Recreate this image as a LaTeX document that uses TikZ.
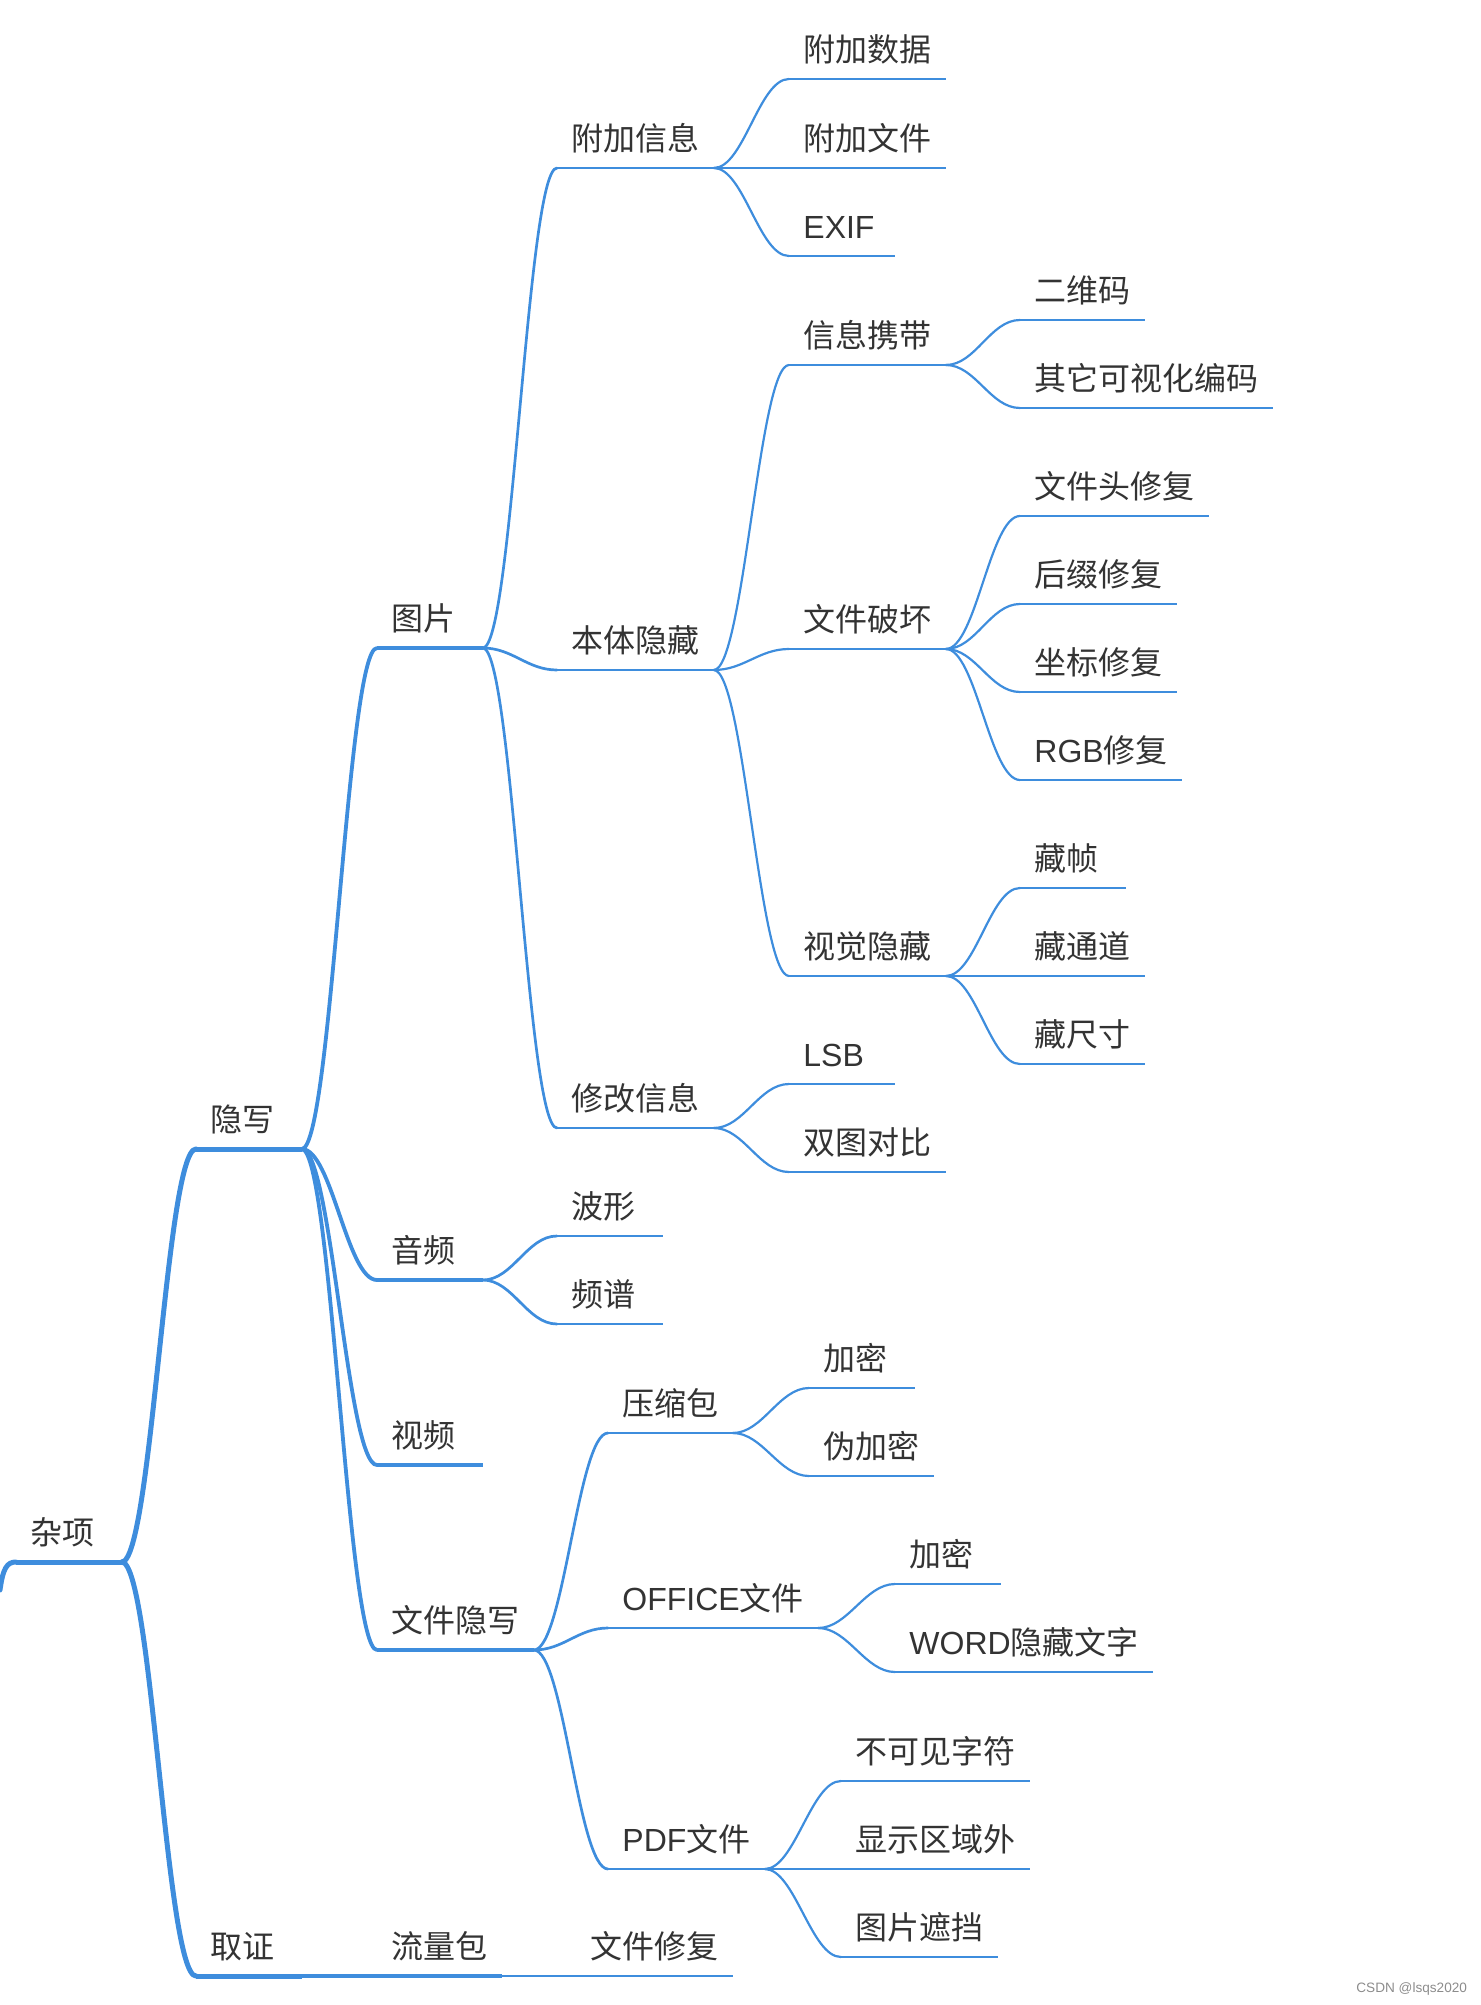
\documentclass[tikz,border=0pt]{standalone}
\usepackage{fontspec}
\setmainfont{Liberation Sans}
\newfontfamily\cjk{Noto Sans CJK SC}
\newfontfamily\lfont{Liberation Sans}
\definecolor{mapblue}{RGB}{62,141,221}
\definecolor{mapgray}{RGB}{51,51,51}
\definecolor{wmgray}{RGB}{140,140,140}
\tikzset{
  topic/.style={anchor=south west, inner xsep=7pt, inner ysep=0pt, text depth=8.7pt,
    text=mapgray, font={\cjk\fontsize{16pt}{19pt}\selectfont}},
  shorttopic/.style={topic, text width=38.5pt, align=left},
  branch/.style={draw=mapblue, line cap=round,
    to path={.. controls ([xshift=15pt]\tikztostart) and ([xshift=-15pt]\tikztotarget) .. (\tikztotarget)}},
  lvA/.style={line width=2.5pt},
  lvB/.style={line width=1.9pt},
  lvC/.style={line width=1.35pt},
  lvD/.style={line width=1.1pt},
}
\begin{document}
\begin{tikzpicture}[x=0.5pt, y=-0.5pt]
\useasboundingbox (0,0) rectangle (1480,2005);

% root and first level
\node[shorttopic] (root) at (16,1562) {杂项};
\node[shorttopic] (yx) at (196,1149) {隐写};
\node[shorttopic] (qz) at (196,1976) {取证};

% second level
\node[shorttopic] (tp) at (377,648) {图片};
\node[shorttopic] (yp) at (377,1280) {音频};
\node[shorttopic] (sp) at (377,1465) {视频};
\node[topic] (wjyx) at (377,1650) {文件隐写};
\node[topic] (llb) at (377,1976) {流量包};

% third level
\node[topic] (fjxx) at (557,168) {附加信息};
\node[topic] (btyc) at (557,670) {本体隐藏};
\node[topic] (xgxx) at (557,1128) {修改信息};
\node[shorttopic] (bx) at (557,1236) {波形};
\node[shorttopic] (pp) at (557,1324) {频谱};
\node[topic] (ysb) at (608,1433) {压缩包};
\node[topic] (office) at (608,1628) {{\lfont OFFICE}文件};
\node[topic] (pdf) at (608,1869) {{\lfont PDF}文件};
\node[topic] (wjxf) at (576,1976) {文件修复};

% fourth level
\node[topic] (fjsj) at (789,79) {附加数据};
\node[topic] (fjwj) at (789,168) {附加文件};
\node[shorttopic] (exif) at (789,256) {{\lfont EXIF}};
\node[topic] (xxxd) at (789,365) {信息携带};
\node[topic] (wjph) at (789,649) {文件破坏};
\node[topic] (sjyc) at (789,976) {视觉隐藏};
\node[shorttopic] (lsb) at (789,1084) {{\lfont LSB}};
\node[topic] (stdb) at (789,1172) {双图对比};
\node[shorttopic] (ysjm) at (809,1388) {加密};
\node[topic] (wjm) at (809,1476) {伪加密};
\node[shorttopic] (ofjm) at (895,1584) {加密};
\node[topic] (word) at (895,1672) {{\lfont WORD}隐藏文字};
\node[topic] (bkj) at (841,1781) {不可见字符};
\node[topic] (xsqy) at (841,1869) {显示区域外};
\node[topic] (tpzd) at (841,1957) {图片遮挡};

% fifth level
\node[topic] (ewm) at (1020,320) {二维码};
\node[topic] (qt) at (1020,408) {其它可视化编码};
\node[topic] (wjt) at (1020,516) {文件头修复};
\node[topic] (hz) at (1020,604) {后缀修复};
\node[topic] (zb) at (1020,692) {坐标修复};
\node[topic] (rgb) at (1020,780) {{\lfont RGB}修复};
\node[shorttopic] (cz) at (1020,888) {藏帧};
\node[topic] (ctd) at (1020,976) {藏通道};
\node[topic] (ccc) at (1020,1064) {藏尺寸};

% underlines
\foreach \n in {root,yx,qz}
  \draw[mapblue,lvA] (\n.south west) -- (\n.south east);
\foreach \n in {tp,yp,sp,wjyx,llb}
  \draw[mapblue,lvB] (\n.south west) -- (\n.south east);
\foreach \n in {fjxx,btyc,xgxx,bx,pp,ysb,office,pdf,wjxf}
  \draw[mapblue,lvC] (\n.south west) -- (\n.south east);
\foreach \n in {fjsj,fjwj,exif,xxxd,wjph,sjyc,lsb,stdb,ysjm,wjm,ofjm,word,bkj,xsqy,tpzd,
    ewm,qt,wjt,hz,zb,rgb,cz,ctd,ccc}
  \draw[mapblue,lvD] (\n.south west) -- (\n.south east);

% branches
\coordinate (rootin) at (0,1590);
\draw[mapblue,lvA,line cap=round] (rootin) .. controls (3,1568) and (7,1562) .. (root.south west);
\foreach \p/\c in {root/yx,root/qz}
  \draw[branch,lvA] (\p.south east) to (\c.south west);
\foreach \p/\c in {yx/tp,yx/yp,yx/sp,yx/wjyx,qz/llb}
  \draw[branch,lvB] (\p.south east) to (\c.south west);
\foreach \p/\c in {tp/fjxx,tp/btyc,tp/xgxx,yp/bx,yp/pp,wjyx/ysb,wjyx/office,wjyx/pdf,llb/wjxf}
  \draw[branch,lvC] (\p.south east) to (\c.south west);
\foreach \p/\c in {fjxx/fjsj,fjxx/fjwj,fjxx/exif,btyc/xxxd,btyc/wjph,btyc/sjyc,xgxx/lsb,xgxx/stdb,
    ysb/ysjm,ysb/wjm,office/ofjm,office/word,pdf/bkj,pdf/xsqy,pdf/tpzd,
    xxxd/ewm,xxxd/qt,wjph/wjt,wjph/hz,wjph/zb,wjph/rgb,sjyc/cz,sjyc/ctd,sjyc/ccc}
  \draw[branch,lvD] (\p.south east) to (\c.south west);

\node[anchor=west, inner sep=0pt, text=wmgray, font={\lfont\fontsize{6.8pt}{8pt}\selectfont}] (wm) at (1356,1989) {CSDN @lsqs2020};
\end{tikzpicture}
\end{document}
